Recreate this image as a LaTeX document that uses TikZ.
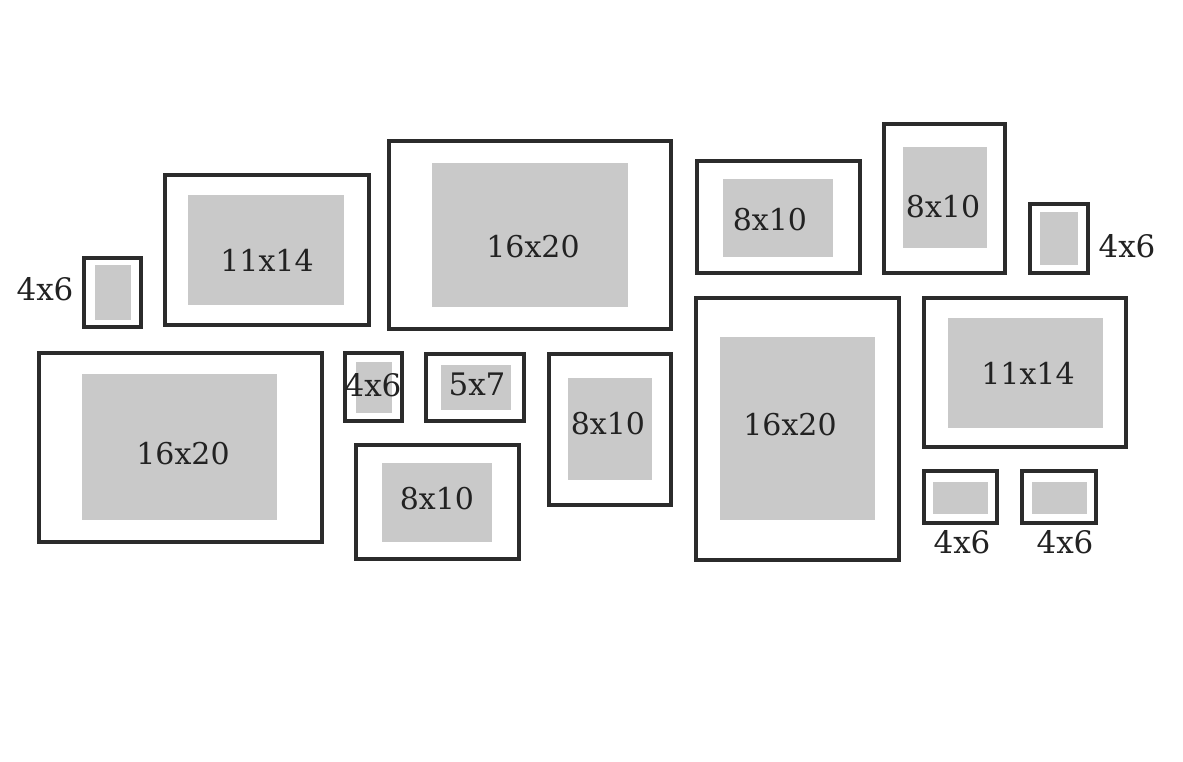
\documentclass[tikz,border=0pt]{standalone}
\usepackage{fontspec}
\setmainfont{DejaVu Serif}
\definecolor{framec}{HTML}{2B2B2B}
\definecolor{matc}{HTML}{C9C9C9}
\definecolor{textc}{HTML}{222222}
\newcommand\pfr[5]{\node[frm, minimum width={#4-#2-4}, minimum height={#5-#3-4}] (#1) at ({(#2+#4)/2},{(#3+#5)/2}) {};}
\newcommand\pmat[5]{\node[mat, minimum width={#4-#2}, minimum height={#5-#3}] (#1) at ({(#2+#4)/2},{(#3+#5)/2}) {};}
\begin{document}
\begin{tikzpicture}[x=1pt,y=-1pt,
  frm/.style={draw=framec, line width=4pt, fill=white, rectangle, inner sep=0pt, outer sep=0pt},
  mat/.style={fill=matc, draw=none, rectangle, inner sep=0pt, outer sep=0pt},
  big/.style={text=textc, inner sep=0pt, font=\fontsize{30}{34}\selectfont},
  small/.style={text=textc, inner sep=0pt, font=\fontsize{31}{34}\selectfont}]
\fill[white] (0,0) rectangle (1183,761);
\useasboundingbox (0,0) rectangle (1183,761);
% top row
\pfr{f1}{82}{256}{143}{329}
\pmat{m1}{95}{265}{131}{320}
\node[small] (l1) at (45,289) {4x6};
\pfr{f2}{163}{173}{371}{327}
\pmat{m2}{188}{195}{344}{305}
\node[big] (l2) at (267,260) {11x14};
\pfr{f3}{387}{139}{673}{331}
\pmat{m3}{432}{163}{628}{307}
\node[big] (l3) at (533,247) {16x20};
\pfr{f4}{695}{159}{862}{275}
\pmat{m4}{723}{179}{833}{257}
\node[big] (l4) at (770,220) {8x10};
\pfr{f5}{882}{122}{1007}{275}
\pmat{m5}{903}{147}{987}{248}
\node[big] (l5) at (943,207) {8x10};
\pfr{f6}{1028}{202}{1090}{275}
\pmat{m6}{1040}{212}{1078}{265}
\node[small] (l6) at (1127,246) {4x6};
% lower rows
\pfr{f7}{37}{351}{324}{544}
\pmat{m7}{82}{374}{277}{520}
\node[big] (l7) at (183,454) {16x20};
\pfr{f8}{343}{351}{404}{423}
\pmat{m8}{356}{362}{392}{413}
\node[small] (l8) at (373,385) {4x6};
\pfr{f9}{424}{352}{526}{423}
\pmat{m9}{441}{365}{511}{410}
\node[small] (l9) at (477,384) {5x7};
\pfr{f10}{354}{443}{521}{561}
\pmat{m10}{382}{463}{492}{542}
\node[big] (l10) at (437,499) {8x10};
\pfr{f11}{547}{352}{673}{507}
\pmat{m11}{568}{378}{652}{480}
\node[big] (l11) at (608,424) {8x10};
\pfr{f12}{694}{296}{901}{562}
\pmat{m12}{720}{337}{875}{520}
\node[big] (l12) at (790,425) {16x20};
\pfr{f13}{922}{296}{1128}{449}
\pmat{m13}{948}{318}{1103}{428}
\node[big] (l13) at (1028,373) {11x14};
\pfr{f14}{922}{469}{999}{525}
\pmat{m14}{933}{482}{988}{514}
\node[small] (l14) at (962,542) {4x6};
\pfr{f15}{1020}{469}{1098}{525}
\pmat{m15}{1032}{482}{1087}{514}
\node[small] (l15) at (1065,542) {4x6};
\end{tikzpicture}
\end{document}
